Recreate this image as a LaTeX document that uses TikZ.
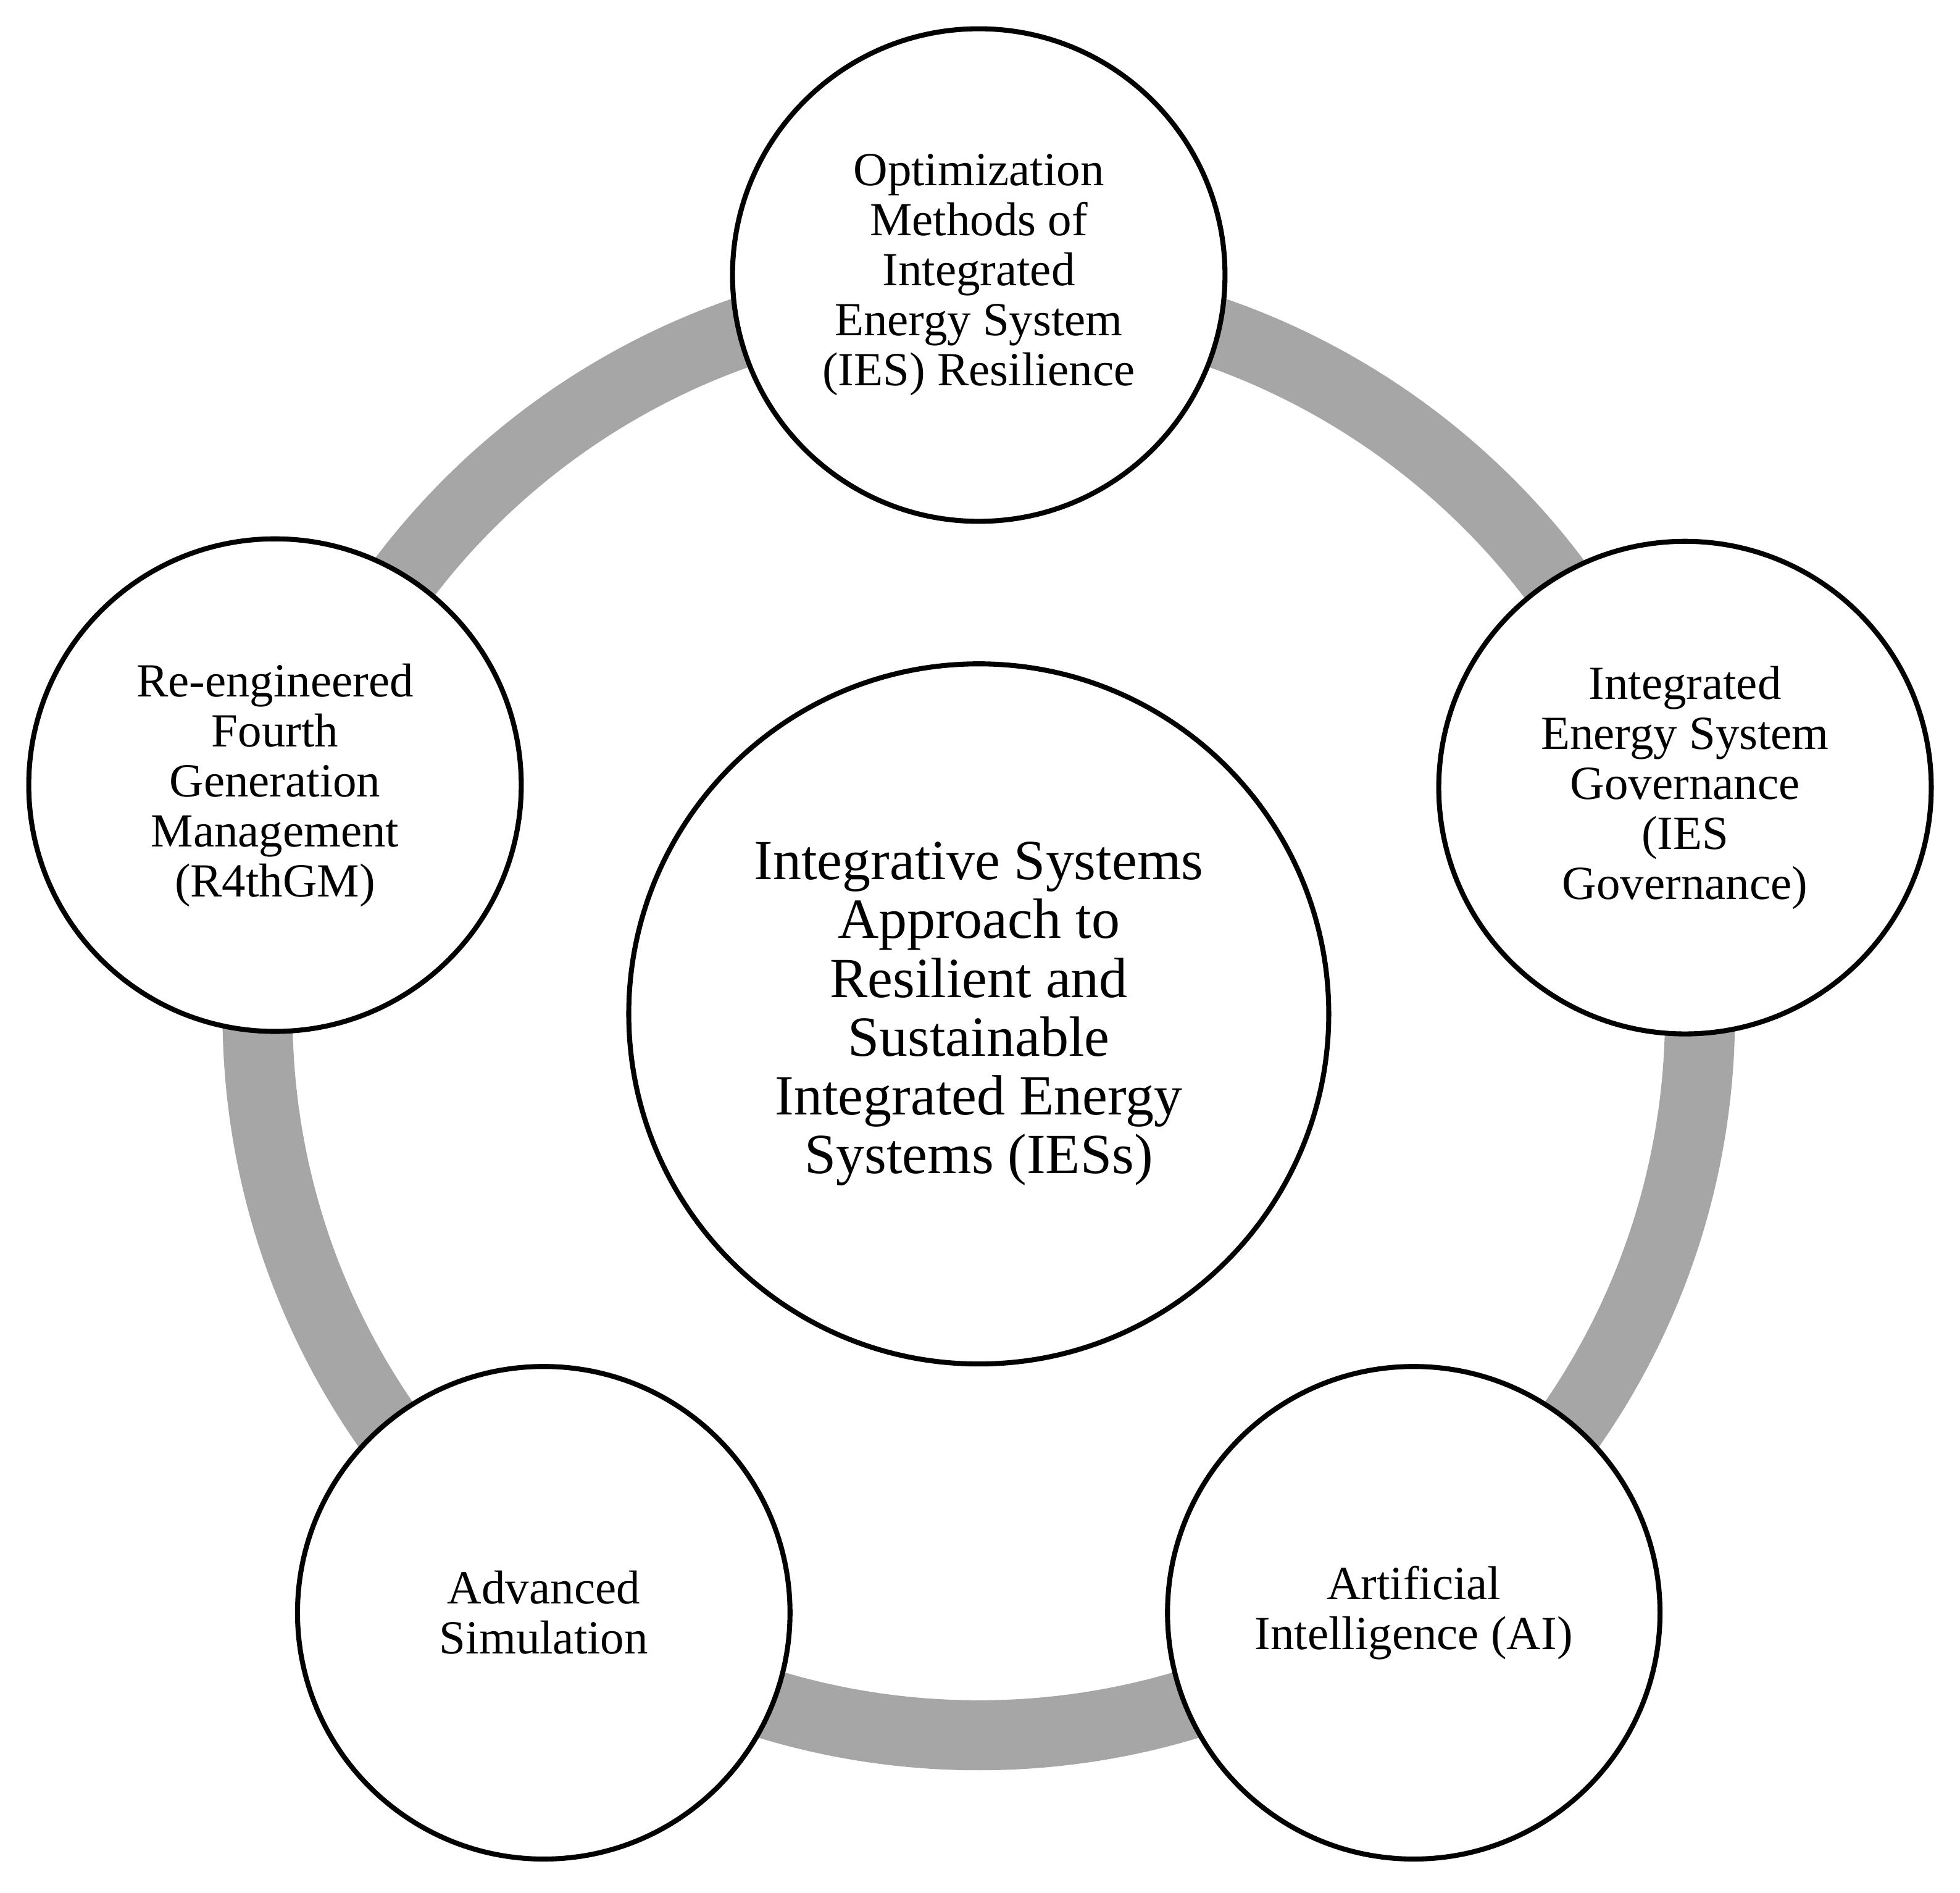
\documentclass[tikz,border=0pt]{standalone}
\usepackage{fontspec}
\setmainfont{Liberation Serif}
\begin{document}
\begin{tikzpicture}[x=0.5pt,y=-0.5pt,
  sat/.style={circle,draw=black,line width=2pt,fill=white,minimum size=197pt,inner sep=0pt,align=center,font=\fontsize{19}{20}\selectfont},
  ctr/.style={circle,draw=black,line width=2pt,fill=white,minimum size=280pt,inner sep=0pt,align=center,font=\fontsize{22.7}{23.5}\selectfont}]
\useasboundingbox (0,0) rectangle (1568,1514);
\coordinate (o) at (783,811);
\draw[line width=28pt,color=black!35] (o) circle[radius=288.5pt];
\node[ctr] (c) at (o) {Integrative Systems\\Approach to\\Resilient and\\Sustainable\\Integrated Energy\\Systems (IESs)};
\node[sat] (t) at (783,220) {Optimization\\Methods of\\Integrated\\Energy System\\(IES) Resilience};
\node[sat] (r) at (1348,630) {Integrated\\Energy System\\Governance\\(IES\\Governance)};
\node[sat] (br) at (1131,1290) {Artificial\\Intelligence (AI)};
\node[sat] (bl) at (435,1290) {Advanced\\Simulation};
\node[sat] (l) at (220,628) {Re-engineered\\Fourth\\Generation\\Management\\(R4thGM)};
\end{tikzpicture}
\end{document}
